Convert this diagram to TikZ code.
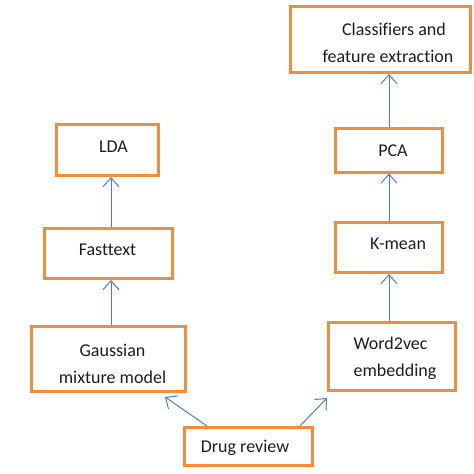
\documentclass[tikz,border=0pt]{standalone}
\usepackage{fontspec}
\setmainfont[Ligatures=NoCommon]{Carlito}
\usetikzlibrary{arrows.meta}
\definecolor{boxor}{RGB}{240,142,62}
\definecolor{arrblue}{RGB}{79,125,180}
\definecolor{txt}{RGB}{30,30,30}
\tikzset{
  box/.style={draw=boxor, line width=3pt, fill=white, inner sep=0pt},
  lbl/.style={text=txt, font=\fontsize{18}{27}\selectfont, inner sep=0pt, align=center},
  arr/.style={draw=arrblue, line width=1pt, -{Straight Barb[length=9pt,width=16pt,line width=1pt]}}
}
\begin{document}
\begin{tikzpicture}[x=1pt,y=-1pt]
\useasboundingbox[fill=white] (0,0) rectangle (474,474);
% boxes
\node[box, minimum width=180pt, minimum height=66pt] (cls) at (380.5,39.5) {};
\node[box, minimum width=102pt, minimum height=51pt] (lda) at (107.5,150) {};
\node[box, minimum width=128pt, minimum height=50pt] (fast) at (108.5,253.5) {};
\node[box, minimum width=107pt, minimum height=44pt] (pca) at (389,150) {};
\node[box, minimum width=107pt, minimum height=50pt] (kmean) at (389,247.5) {};
\node[box, minimum width=154pt, minimum height=65pt] (gauss) at (108.5,359) {};
\node[box, minimum width=127pt, minimum height=68pt] (w2v) at (392,356.5) {};
\node[box, minimum width=128pt, minimum height=38pt] (drug) at (248.5,446) {};
% texts
\node[lbl] (cls-t) at (388,43) {\hspace*{12pt}Classifiers and\\feature extraction};
\node[lbl] (lda-t) at (113.5,147) {LDA};
\node[lbl] (fast-t) at (107.5,250) {Fasttext};
\node[lbl] (pca-t) at (393,151) {PCA};
\node[lbl] (kmean-t) at (398,244) {K-mean};
\node[lbl] (gauss-t) at (112.5,363.5) {Gaussian\\mixture model};
\node[lbl, align=left] (w2v-t) at (395,358.5) {Word2vec\\embedding};
\node[lbl] (drug-t) at (245,448) {Drug review};
% connectors
\coordinate (lx) at (111,0);
\coordinate (rx) at (389,0);
\coordinate (d1) at (207,426);
\coordinate (g1) at (165,397);
\coordinate (d2) at (300,426);
\coordinate (w1) at (327,398);
\draw[arr] (d1) -- (g1);
\draw[arr] (d2) -- (w1);
\draw[arr] (gauss.north -| lx) -- (fast.south -| lx);
\draw[arr] (fast.north -| lx) -- (lda.south -| lx);
\draw[arr] (w2v.north -| rx) -- (kmean.south -| rx);
\draw[arr] (kmean.north -| rx) -- (pca.south -| rx);
\draw[arr] (pca.north -| rx) -- (cls.south -| rx);
\end{tikzpicture}
\end{document}
